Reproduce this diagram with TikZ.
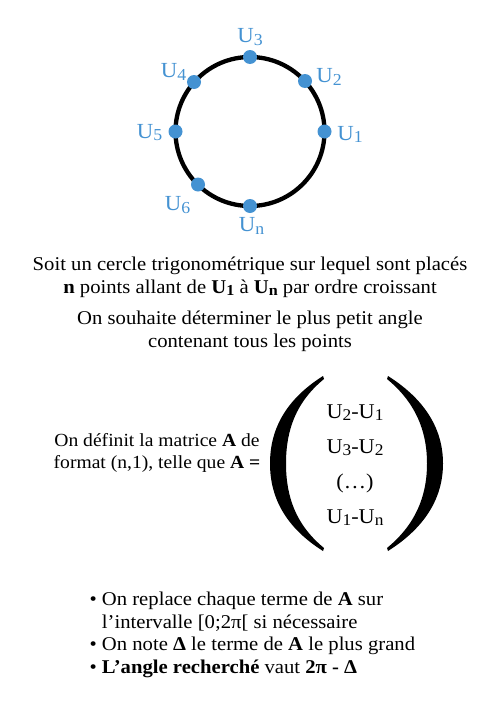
\documentclass[tikz,border=0pt]{standalone}
\usepackage{fontspec}
\setmainfont[FakeStretch=1.06]{Liberation Serif}
\definecolor{ptblue}{RGB}{68,146,210}
\newcommand{\ix}[1]{\raisebox{-0.1em}{\scalebox{0.78}{#1}}}

\begin{document}
\begin{tikzpicture}[x=1pt, y=-1pt, font=\fontsize{19.5}{22.5}\selectfont, line join=round, line cap=round,
    dot/.style={circle, fill=ptblue, inner sep=0pt, minimum size=14pt},
    lab/.style={text=ptblue, font=\fontsize{21.5}{24}\selectfont, inner sep=0pt}]
    \useasboundingbox (0,0) rectangle (500,715);
    % cercle et points
    \coordinate (O) at (250,131.5);
    \draw[line width=4.3pt] (O) circle (74.5);
    \node[dot] (u1) at (324.5,131.5) {};
    \node[dot] (u2) at (305,81) {};
    \node[dot] (u3) at (250,57) {};
    \node[dot] (u4) at (194,82) {};
    \node[dot] (u5) at (175.5,131.5) {};
    \node[dot] (u6) at (198,184.5) {};
    \node[dot] (un) at (250,206) {};
    \node[lab] (l1) at (350,134.5) {U\ix{1}};
    \node[lab] (l2) at (329,77) {U\ix{2}};
    \node[lab] (l3) at (250,37) {U\ix{3}};
    \node[lab] (l4) at (173.5,72) {U\ix{4}};
    \node[lab] (l5) at (149.5,132.5) {U\ix{5}};
    \node[lab] (l6) at (177.5,205) {U\ix{6}};
    \node[lab] (ln) at (251.5,226) {U\ix{n}};
    % textes
    \node[align=center] (intro) at (250,277.5) {Soit un cercle trigonométrique sur lequel sont placés\\ \textbf{n} points allant de \textbf{U\ix{1}} à \textbf{U\ix{n}} par ordre croissant};
    \node[align=center] (goal) at (250,331.5) {On souhaite déterminer le plus petit angle\\ contenant tous les points};
    \node[align=center, font=\fontsize{18.5}{22.5}\selectfont] (defA) at (157,453) {On définit la matrice \textbf{A} de\\ format (n,1), telle que \textbf{A =}};
    % matrice
    \fill (323,376) .. controls (285,400) and (270,430) .. (270,463.5) .. controls (270,497) and (285,527) .. (323,551) -- (324,548) .. controls (296,525) and (286,497) .. (286,463.5) .. controls (286,430) and (296,402) .. (324,379) -- cycle;
    \fill (388,376) .. controls (426,400) and (443,430) .. (443,463.5) .. controls (443,497) and (426,527) .. (388,551) -- (387,548) .. controls (415,525) and (427,497) .. (427,463.5) .. controls (427,430) and (415,402) .. (387,379) -- cycle;
    \node[align=center, font=\fontsize{21}{35}\selectfont] (vecA) at (355,465) {U\ix{2}-U\ix{1}\\ U\ix{3}-U\ix{2}\\ (…)\\ U\ix{1}-U\ix{n}};
    % etapes
    \node[align=left, anchor=west] (steps) at (86,635) {• On replace chaque terme de \textbf{A} sur\\ \hphantom{• }l’intervalle [0;2π[ si nécessaire\\ • On note \textbf{Δ} le terme de \textbf{A} le plus grand\\ • \textbf{L’angle recherché} vaut \textbf{2π - Δ}};
\end{tikzpicture}
\end{document}
